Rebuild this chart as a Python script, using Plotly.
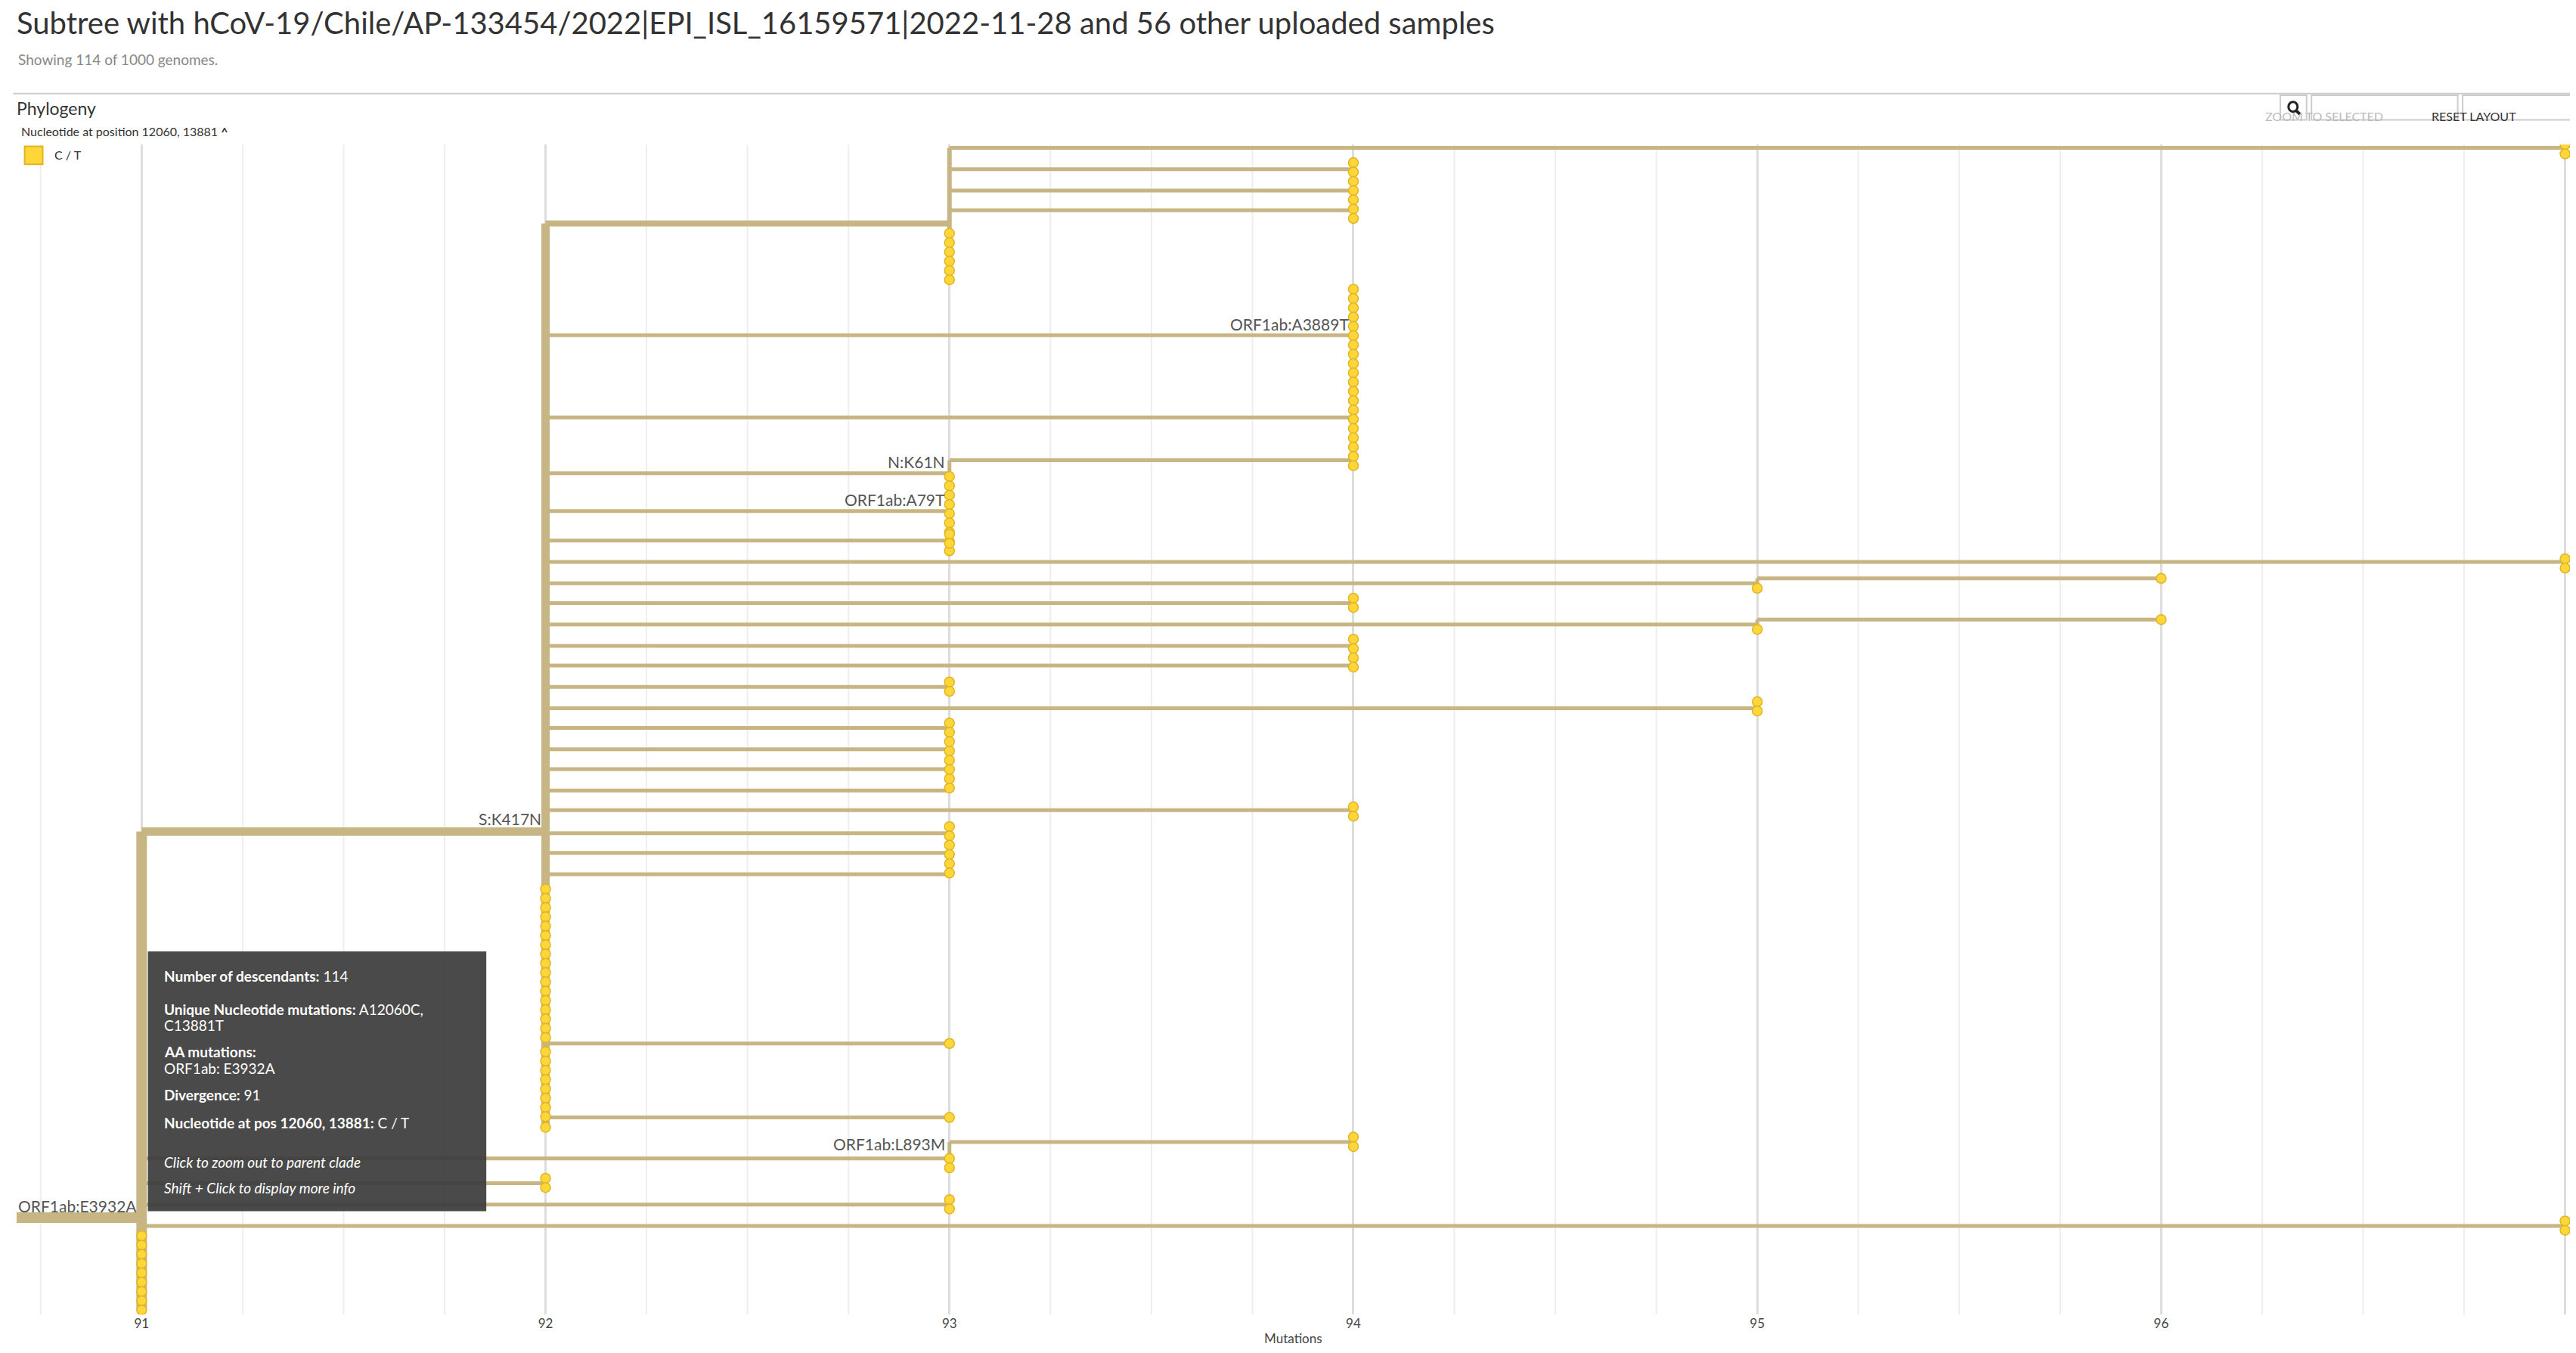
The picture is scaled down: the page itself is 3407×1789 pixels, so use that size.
import plotly.graph_objects as go

S = 3407 / 1568.0  # display->pixel scale
W, H = 3407, 1789
OFF = 8  # body margin of page in pixels
WF, HF = W - 2 * OFF, H - 2 * OFF

BRANCH = "#C8B584"
TIP = "#FDD63A"
TIPLINE = "#E2B422"

# horizontal branches: (x_start, x_end, y, width)
branches = [
    (90.69, 91, 741, 14), (91, 92, 506, 11),
    (91, 97, 746, 5), (91, 93, 733, 5), (91, 92, 720, 5), (91, 93, 705, 5), (93, 94, 695, 5),
    (92, 93, 136, 8), (93, 97, 90, 5), (93, 94, 103, 5), (93, 94, 116, 5), (93, 94, 128, 5),
    (92, 94, 204, 5), (92, 94, 254, 5), (92, 93, 288, 5), (93, 94, 280, 5),
    (92, 93, 311, 5), (92, 93, 329, 5), (92, 97, 342, 5),
    (92, 95, 355, 5), (95, 96, 352, 5), (92, 94, 367, 5),
    (92, 95, 380, 5), (95, 96, 377, 5), (92, 94, 393, 5), (92, 94, 405, 5),
    (92, 93, 418, 5), (92, 95, 431, 5), (92, 93, 443, 5), (92, 93, 456, 5),
    (92, 93, 468, 5), (92, 93, 481, 5), (92, 94, 493, 5), (92, 93, 507, 5),
    (92, 93, 519, 5), (92, 93, 532, 5), (92, 93, 635, 5), (92, 93, 680, 5),
]
# vertical node lines: (x, y_top, y_bottom, width)
verticals = [
    (91, 506, 797, 14), (92, 136, 686, 11), (93, 90, 170, 6), (93, 695, 711, 5),
    (93, 280, 300, 5), (95, 352, 358, 5), (95, 377, 383, 5),
]
# tip groups: (x, first_y, count)
tips = [
    (97, 88, 2), (94, 99, 7), (93, 142, 6), (94, 176, 20), (93, 290, 9), (93, 325, 2),
    (97, 340, 2), (96, 352, 1), (95, 358, 1), (94, 364, 2), (96, 377, 1), (95, 383, 1),
    (94, 389, 4), (93, 415, 2), (95, 427, 2), (93, 440, 8), (94, 491, 2), (93, 503, 6),
    (92, 541, 17), (93, 635, 1), (92, 640, 8), (93, 680, 1), (92, 686, 1),
    (94, 692, 2), (93, 705, 2), (92, 717, 2), (93, 730, 2), (97, 743, 2), (91, 752, 9),
]
SPACING = 5.65
# branch labels: (x, y, text)
labels = [
    (94, 197, "ORF1ab:A3889T"), (93, 281, "N:K61N"), (93, 304, "ORF1ab:A79T"),
    (92, 498, "S:K417N"), (93, 696, "ORF1ab:L893M"), (91, 734, "ORF1ab:E3932A"),
]
xticks = [91, 92, 93, 94, 95, 96, 97]

fig = go.Figure()
for x0, x1, y, w in branches:
    fig.add_trace(go.Scatter(x=[x0, x1], y=[y, y], mode="lines",
                             line=dict(color=BRANCH, width=w), hoverinfo="skip", showlegend=False))
for x, y0, y1, w in verticals:
    fig.add_trace(go.Scatter(x=[x, x], y=[y0, y1], mode="lines",
                             line=dict(color=BRANCH, width=w), hoverinfo="skip", showlegend=False))
tx, ty = [], []
for x, y0, n in tips:
    for i in range(n):
        tx.append(x)
        ty.append(y0 + i * SPACING)
fig.add_trace(go.Scatter(x=tx, y=ty, mode="markers", showlegend=False,
                         marker=dict(size=13, color=TIP, line=dict(color=TIPLINE, width=1.5))))
for x, y, t in labels:
    fig.add_annotation(x=x, y=y, text=t, showarrow=False, xanchor="right", yanchor="middle",
                       xshift=-4, font=dict(family="Lato", size=21, color="#555555"))


def py(d):  # display y -> paper
    return 1 - (d * S - OFF) / HF


def px(d):
    return (d * S - OFF) / WF


minor = [91 + k * 0.25 for k in range(-1, 25)]
for m in minor:
    if 90.69 < m < 97.02 and abs(m - round(m)) > 1e-6:
        fig.add_shape(type="line", x0=m, x1=m, y0=88, y1=800, xref="x", yref="y",
                      line=dict(color="#EEEEEE", width=2), layer="below")

fig.update_layout(
    width=WF, height=HF, margin=dict(l=0, r=0, t=0, b=0),
    plot_bgcolor="white", paper_bgcolor="white",
    font=dict(family="Lato"),
    xaxis=dict(domain=[px(10), min(1, px(1565))], range=[90.69, 97.012], tickvals=xticks,
               showgrid=True, gridcolor="#DDDDDD", gridwidth=3, zeroline=False,
               tickfont=dict(size=17, color="#444"), ticks="",
               title=dict(text="Mutations", font=dict(size=17, color="#444"), standoff=4)),
    yaxis=dict(domain=[py(800), py(88)], range=[800, 88], showgrid=False, zeroline=False,
               showticklabels=False),
)

fig.add_annotation(xref="paper", yref="paper", x=px(9), y=py(14), xanchor="left", yanchor="middle",
                   text="Subtree with hCoV-19/Chile/AP-133454/2022|EPI_ISL_16159571|2022-11-28 and 56 other uploaded samples",
                   showarrow=False, font=dict(size=40, color="#333"))
fig.add_annotation(xref="paper", yref="paper", x=px(10), y=py(36), xanchor="left", yanchor="middle",
                   text="Showing 114 of 1000 genomes.", showarrow=False, font=dict(size=19, color="#888"))
fig.add_shape(type="line", xref="paper", yref="paper", x0=px(8), x1=1, y0=py(57), y1=py(57),
              line=dict(color="#CCCCCC", width=2))
fig.add_annotation(xref="paper", yref="paper", x=px(9), y=py(66), xanchor="left", yanchor="middle",
                   text="Phylogeny", showarrow=False, font=dict(size=23, color="#333"))
fig.add_annotation(xref="paper", yref="paper", x=px(12), y=py(80), xanchor="left", yanchor="middle",
                   text="Nucleotide at position 12060, 13881 <b>^</b>", showarrow=False,
                   font=dict(size=16, color="#333"))
fig.add_shape(type="rect", xref="paper", yref="paper", x0=px(15), x1=px(26), y0=py(100), y1=py(89),
              fillcolor=TIP, line=dict(color=TIPLINE, width=2))
fig.add_annotation(xref="paper", yref="paper", x=px(32), y=py(94), xanchor="left", yanchor="middle",
                   text="C / T", showarrow=False, font=dict(size=16, color="#333"))

# buttons
for x0, x1, t, c in [(1388, 1404, "", "#333"), (1407, 1496, "ZOOM TO SELECTED", "#BBB"),
                     (1499, 1566, "RESET LAYOUT", "#333")]:
    fig.add_shape(type="rect", xref="paper", yref="paper", x0=px(x0), x1=px(x1), y0=py(73), y1=py(58),
                  line=dict(color="#CCCCCC", width=2), fillcolor="white")
    if t:
        fig.add_annotation(xref="paper", yref="paper", x=px((x0 + x1) / 2), y=py(65.5), text=t,
                           showarrow=False, font=dict(size=16, color=c))
# magnifier icon
fig.add_shape(type="circle", xref="paper", yref="paper", x0=px(1393), x1=px(1398.5), y0=py(68),
              y1=py(62), line=dict(color="#222", width=3))
fig.add_shape(type="line", xref="paper", yref="paper", x0=px(1397.5), x1=px(1400), y0=py(67.2),
              y1=py(69.5), line=dict(color="#222", width=4))

# tooltip
fig.add_shape(type="rect", xref="paper", yref="paper", x0=px(90), x1=px(296), y0=py(737), y1=py(579),
              fillcolor="rgba(60,60,60,0.93)", line=dict(width=0))
tip_lines = [
    (594, "<b>Number of descendants:</b> 114"),
    (614, "<b>Unique Nucleotide mutations:</b> A12060C,"),
    (624, "C13881T"),
    (640, "<b>AA mutations:</b>"),
    (650, "ORF1ab: E3932A"),
    (666, "<b>Divergence:</b> 91"),
    (683, "<b>Nucleotide at pos 12060, 13881:</b> C / T"),
    (707, "<i>Click to zoom out to parent clade</i>"),
    (723, "<i>Shift + Click to display more info</i>"),
]
for y, t in tip_lines:
    fig.add_annotation(xref="paper", yref="paper", x=px(99), y=py(y), xanchor="left", yanchor="middle",
                       text=t, showarrow=False, font=dict(size=19, color="white"))

fig.write_html("out.html")
